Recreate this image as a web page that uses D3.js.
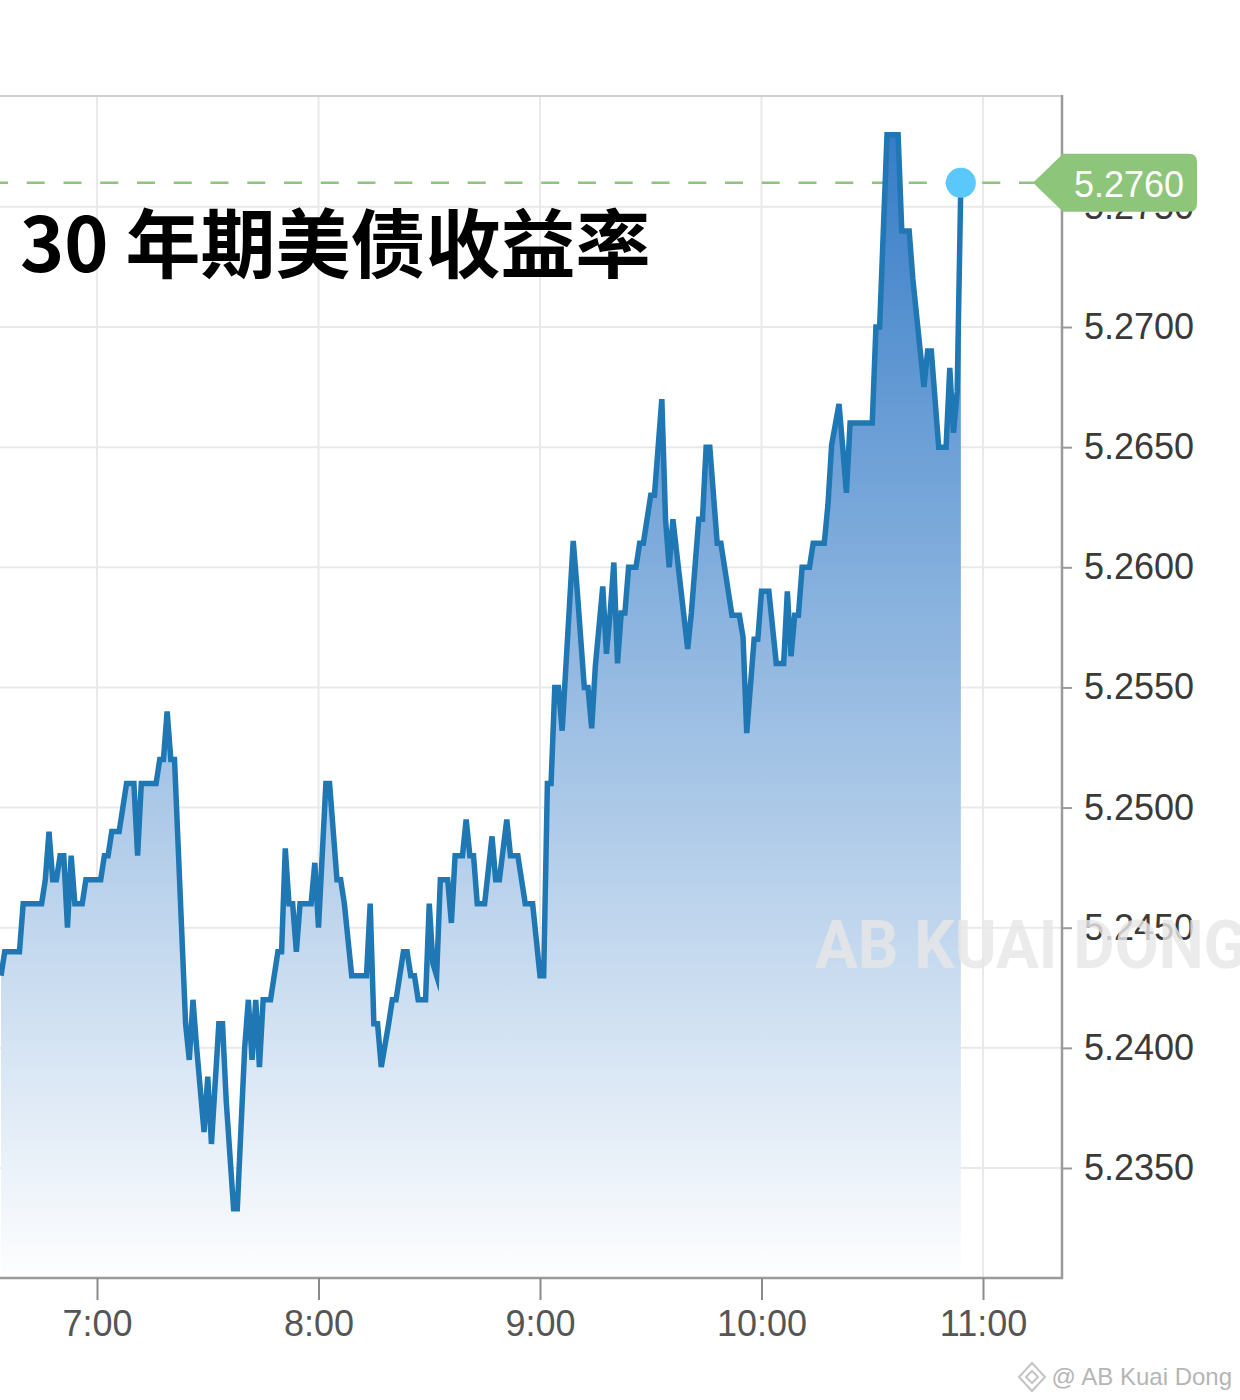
<!DOCTYPE html>
<html><head><meta charset="utf-8">
<script src="https://cdn.jsdelivr.net/npm/d3@7"></script>
<style>html,body{margin:0;padding:0;background:#fff;} svg{display:block}</style>
</head><body>
<svg id="c" width="1240" height="1400"></svg>
<script>
// ---------- data ----------
const times = ["6:34","6:35","6:39","6:40","6:45","6:46","6:47","6:48","6:49","6:50","6:51","6:52","6:53","6:54","6:56","6:57",
"7:01","7:02","7:03","7:04","7:06","7:08","7:10","7:11","7:12","7:16","7:17","7:18","7:19","7:20","7:21","7:24","7:25","7:26","7:27","7:29",
"7:30","7:31","7:33","7:34","7:35","7:37","7:38","7:40","7:41","7:42","7:43","7:44","7:45","7:47","7:49","7:50","7:51","7:52","7:53","7:54","7:55","7:58","7:59",
"8:00","8:02","8:03","8:05","8:06","8:07","8:09","8:13","8:14","8:15","8:16","8:17","8:19","8:20","8:21","8:23","8:24","8:25","8:26","8:27","8:29",
"8:30","8:31","8:32","8:33","8:35","8:36","8:37","8:39","8:40","8:41","8:42","8:43","8:45","8:47","8:48","8:49","8:51","8:52","8:54","8:56","8:58",
"9:00","9:01","9:02","9:03","9:04","9:05","9:06","9:09","9:10","9:12","9:13","9:14","9:15","9:17","9:18","9:19","9:20","9:21","9:22","9:23","9:24","9:26","9:27","9:28",
"9:30","9:31","9:33","9:34","9:35","9:36","9:40","9:41","9:43","9:44","9:45","9:46","9:48","9:49","9:52","9:54","9:55","9:56","9:58","9:59",
"10:00","10:02","10:04","10:06","10:07","10:08","10:09","10:10","10:11","10:13","10:14","10:17","10:18","10:19","10:21","10:22","10:23","10:24",
"10:30","10:31","10:32","10:34","10:37","10:38","10:40","10:41","10:43","10:44","10:45","10:46","10:48","10:50","10:51","10:52","10:53","10:54"];
const values = [5.243,5.244,5.244,5.246,5.246,5.247,5.249,5.247,5.247,5.248,5.248,5.245,5.248,5.246,5.246,5.247,
5.247,5.248,5.248,5.249,5.249,5.251,5.251,5.248,5.251,5.251,5.252,5.252,5.254,5.252,5.252,5.241,5.2395,5.242,5.240,5.2365,
5.2388,5.236,5.241,5.241,5.2378,5.2333,5.2333,5.240,5.242,5.2395,5.242,5.2392,5.242,5.242,5.244,5.244,5.2483,5.246,5.246,5.244,5.246,5.246,5.2477,
5.245,5.251,5.251,5.247,5.247,5.246,5.243,5.243,5.246,5.241,5.241,5.2392,5.241,5.242,5.242,5.244,5.244,5.243,5.243,5.242,5.242,
5.246,5.2435,5.243,5.247,5.247,5.2452,5.248,5.248,5.2495,5.248,5.248,5.246,5.246,5.2488,5.247,5.247,5.2495,5.248,5.248,5.246,5.246,
5.243,5.243,5.251,5.251,5.255,5.255,5.2532,5.2611,5.2592,5.255,5.255,5.2533,5.2559,5.2592,5.2564,5.2581,5.2602,5.256,5.2581,5.2581,5.260,5.260,5.261,5.261,
5.263,5.263,5.267,5.262,5.260,5.262,5.2566,5.2581,5.262,5.262,5.265,5.265,5.261,5.261,5.258,5.258,5.2571,5.2531,5.257,5.257,
5.259,5.259,5.256,5.256,5.259,5.2563,5.258,5.258,5.260,5.260,5.261,5.261,5.2626,5.2651,5.2668,5.265,5.2631,5.266,
5.266,5.270,5.270,5.278,5.278,5.274,5.274,5.272,5.269,5.2675,5.269,5.269,5.265,5.265,5.2683,5.2656,5.2673,5.276];
const yTicks = [5.2350,5.2400,5.2450,5.2500,5.2550,5.2600,5.2650,5.2700,5.2750];
const xTicks = ["7:00","8:00","9:00","10:00","11:00"];
const lastValue = 5.2760;
const titleText = "30 年期美债收益率";
const watermark = "AB KUAI DONG";
const credit = "@ AB Kuai Dong";

// ---------- helpers ----------
const T = s => { const [h,m] = s.split(":").map(Number); return new Date(2024,0,2,h,m); };
const data = times.map((t,i) => ({t: T(t), v: values[i]}));

const L = 0, R = 1062, TOP = 96, BOT = 1278;
const x = d3.scaleTime().domain([T("7:00"), T("11:00")]).range([97, 983]);
x.domain([x.invert(L), x.invert(R)]).range([L, R]);
const y = d3.scaleLinear().domain([5.235, 5.270]).range([1168, 327]);
y.domain([y.invert(BOT), y.invert(TOP)]).range([BOT, TOP]);

const svg = d3.select("#c");
const defs = svg.append("defs");
const grad = defs.append("linearGradient").attr("id","fillGrad")
  .attr("gradientUnits","userSpaceOnUse").attr("x1",0).attr("x2",0).attr("y1",130).attr("y2",1285);
grad.append("stop").attr("offset","0%").attr("stop-color","#367cc7");
grad.append("stop").attr("offset","100%").attr("stop-color","#ffffff");
defs.append("clipPath").attr("id","plotClip").append("rect")
  .attr("x",L).attr("y",TOP).attr("width",R-L).attr("height",BOT-TOP);

// gridlines
const grid = svg.append("g");
grid.selectAll("line.h").data(yTicks).join("line")
  .attr("x1",L).attr("x2",R).attr("y1",d=>y(d)).attr("y2",d=>y(d))
  .attr("stroke","#e9e9e9").attr("stroke-width",2);
grid.selectAll("line.v").data(xTicks).join("line")
  .attr("x1",d=>x(T(d))).attr("x2",d=>x(T(d))).attr("y1",TOP).attr("y2",BOT)
  .attr("stroke","#e9e9e9").attr("stroke-width",2);

// dashed current-value line (under the area)
svg.append("line").attr("x1",L).attr("x2",1036)
  .attr("y1",y(lastValue)).attr("y2",y(lastValue))
  .attr("stroke","#8cc67a").attr("stroke-width",2.5)
  .attr("stroke-dasharray","18 18.75").attr("stroke-dashoffset",10);

// area + line
const plot = svg.append("g").attr("clip-path","url(#plotClip)");
plot.append("path").datum(data)
  .attr("d", d3.area().x(d=>x(d.t)).y0(BOT).y1(d=>y(d.v)))
  .attr("fill","url(#fillGrad)");
plot.append("path").datum(data)
  .attr("d", d3.line().x(d=>x(d.t)).y(d=>y(d.v)))
  .attr("fill","none").attr("stroke","#1f77b4").attr("stroke-width",5.5)
  .attr("stroke-linejoin","miter").attr("stroke-miterlimit",6);

// frame lines
svg.append("line").attr("x1",L).attr("x2",R).attr("y1",TOP).attr("y2",TOP)
  .attr("stroke","#d0d0d0").attr("stroke-width",2);
svg.append("line").attr("x1",R).attr("x2",R).attr("y1",TOP-1).attr("y2",BOT+1)
  .attr("stroke","#9a9a9a").attr("stroke-width",2.5);
svg.append("line").attr("x1",L).attr("x2",R+1).attr("y1",BOT).attr("y2",BOT)
  .attr("stroke","#9a9a9a").attr("stroke-width",2.5);

// axes
const fontFam = "'Liberation Sans', Arial, Helvetica, sans-serif";
const xAxis = svg.append("g").attr("transform",`translate(0,${BOT})`)
  .call(d3.axisBottom(x).tickValues(xTicks.map(T)).tickFormat(d3.timeFormat("%-H:%M")).tickSize(22).tickPadding(10));
xAxis.select(".domain").remove();
xAxis.selectAll(".tick line").attr("stroke","#8a8a8a").attr("stroke-width",2);
xAxis.selectAll(".tick text").attr("fill","#555").style("font-family",fontFam).style("font-size","36px");

const yAxis = svg.append("g").attr("transform",`translate(${R},0)`)
  .call(d3.axisRight(y).tickValues(yTicks).tickFormat(d3.format(".4f")).tickSize(10).tickPadding(12));
yAxis.select(".domain").remove();
yAxis.selectAll(".tick line").attr("stroke","#9a9a9a").attr("stroke-width",2);
yAxis.selectAll(".tick text").attr("fill","#3a3a3a").style("font-family",fontFam).style("font-size","36px");

// last point dot
const last = data[data.length-1];
svg.append("circle").attr("cx",x(last.t)).attr("cy",y(last.v)).attr("r",15).attr("fill","#5ac8fa");

// price label
const ly = y(lastValue);
const lbl = svg.append("g");
lbl.append("path").attr("d",
  `M1033,${ly} L1063,${ly-29} L1189,${ly-29} Q1197,${ly-29} 1197,${ly-21} L1197,${ly+21} Q1197,${ly+29} 1189,${ly+29} L1063,${ly+29} Z`)
  .attr("fill","#8dc57a");
lbl.append("text").attr("x",1074).attr("y",ly+14).text(d3.format(".4f")(lastValue))
  .attr("fill","#fff").style("font-family",fontFam).style("font-size","36px");

// title
svg.append("text").attr("x",20).attr("y",272).text(titleText)
  .attr("fill","#000").style("font-family","'Noto Sans CJK SC', sans-serif")
  .style("font-weight","700").style("font-size","75px");

// watermark
svg.append("text").attr("x",815).attr("y",968).text(watermark)
  .attr("textLength",432).attr("lengthAdjust","spacingAndGlyphs")
  .attr("fill","#e6e6e6").attr("fill-opacity",0.82)
  .style("font-family","Roboto, 'Open Sans', sans-serif").style("font-weight","700").style("font-size","66px");

// credit
const cg = svg.append("g").attr("transform","translate(1032,1377)").attr("fill","none").attr("stroke","#c4c4c4").attr("stroke-width",2);
cg.append("path").attr("d","M0,-14 L13,0 L0,14 L-13,0 Z");
cg.append("path").attr("d","M0,-6 L6,0 L0,6 L-6,0 Z");
svg.append("text").attr("x",1232).attr("y",1385).attr("text-anchor","end").text(credit)
  .attr("fill","#b5b5b5").style("font-family",fontFam).style("font-size","24px");
</script>
</body></html>
